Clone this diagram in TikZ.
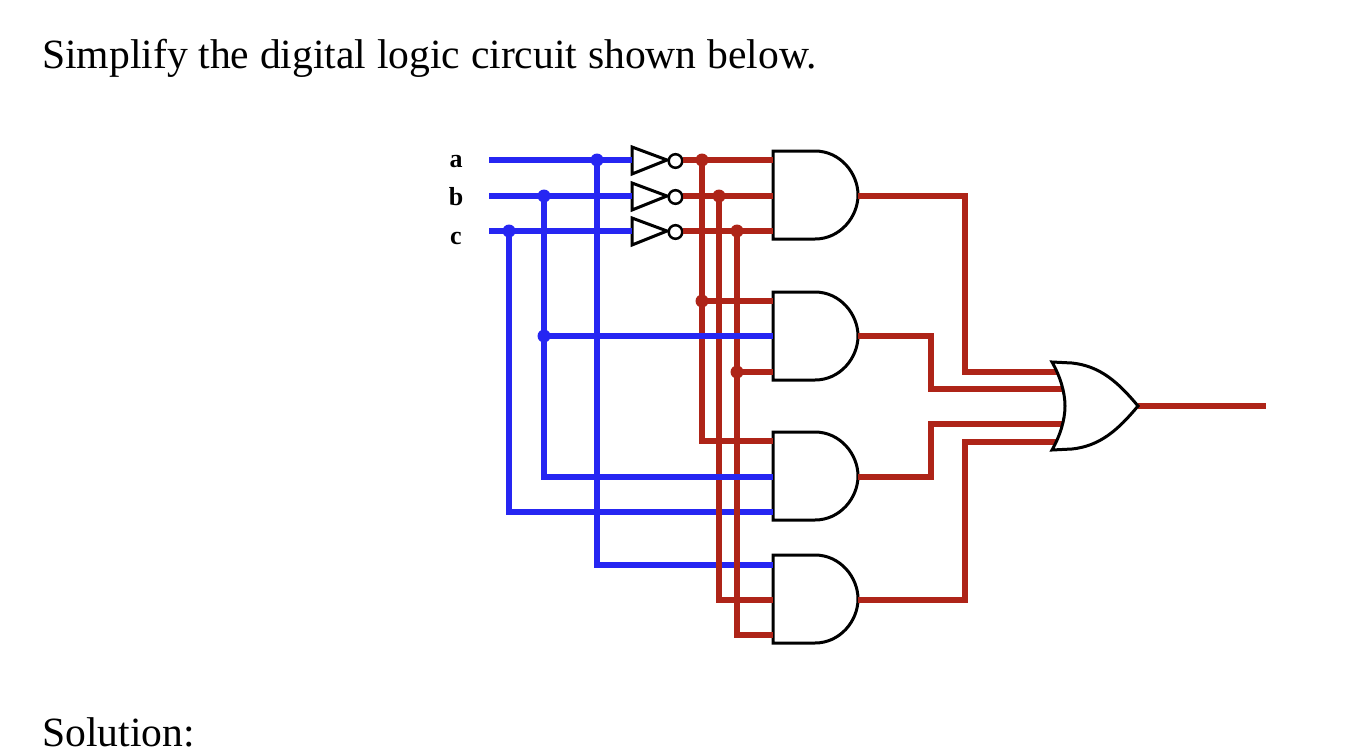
\documentclass[tikz,border=0pt]{standalone}
\usepackage{fontspec}
\setmainfont[WordSpace=1.03]{Liberation Serif}
\definecolor{wireblue}{HTML}{2626F2}
\definecolor{wirered}{HTML}{AE2418}
\tikzset{
    blue wire/.style={draw=wireblue, line width=5.5pt, line join=miter},
    red wire/.style={draw=wirered, line width=5.5pt, line join=miter},
    gate/.style={draw=black, line width=3pt, fill=white, line join=miter},
    bubble/.style={draw=black, line width=2.5pt, fill=white},
    blue dot/.style={circle, fill=wireblue, minimum size=13pt, inner sep=0pt},
    red dot/.style={circle, fill=wirered, minimum size=13pt, inner sep=0pt},
    title/.style={anchor=base west, font=\fontsize{41.6}{41.6}\selectfont, inner sep=0pt},
    input/.style={anchor=base, font=\fontsize{26}{26}\selectfont\bfseries, inner sep=0pt}
}
% #1 name, #2 top, #3 first pin, #4 middle pin, #5 last pin
\newcommand{\AndGate}[5]{
    \draw [gate] (773,#2) -- (815,#2) .. controls (840,#2) and (858,#2+22) .. (858,#2+44)
        .. controls (858,#2+66) and (840,#2+88) .. (815,#2+88) -- (773,#2+88) -- cycle;
    \coordinate (#1a) at (773,#3);
    \coordinate (#1b) at (773,#4);
    \coordinate (#1c) at (773,#5);
    \coordinate (#1out) at (858,#4);
}
% #1 name, #2 middle
\newcommand{\NotGate}[2]{
    \draw [gate] (632,#2-13) -- (667,#2) -- (632,#2+14) -- cycle;
    \draw [bubble] (675.5,#2+1) circle (6.8);
    \coordinate (#1in) at (632,#2);
    \coordinate (#1out) at (683,#2);
}

\begin{document}
\begin{tikzpicture}[x=1pt, y=-1pt]
    \useasboundingbox (0,0) rectangle (1355,753);
    \node [title] (question) at (42,68) {Simplify the digital logic circuit shown below.};
    \node [title] (solution) at (42,746) {Solution:};
    \node [input] (a) at (456,167) {a};
    \node [input] (b) at (456,205) {b};
    \node [input] (c) at (456,244) {c};

    \coordinate (astart) at (489,160);
    \coordinate (bstart) at (489,196);
    \coordinate (cstart) at (489,231);

    \AndGate{first}{151}{160}{196}{231}
    \AndGate{second}{292}{301}{336}{372}
    \AndGate{third}{432}{441}{477}{512}
    \AndGate{fourth}{555}{565}{600}{635}
    \NotGate{nota}{160}
    \NotGate{notb}{196}
    \NotGate{notc}{231}

    % inputs
    \node [blue dot] (ja) at (597,160) {};
    \node [blue dot] (jb) at (544,196) {};
    \node [blue dot] (jc) at (509,231) {};
    \node [blue dot] (jb2) at (544,336) {};
    \draw [blue wire] (astart) -- (notain);
    \draw [blue wire] (bstart) -- (notbin);
    \draw [blue wire] (cstart) -- (notcin);
    \draw [blue wire] (ja.center) |- (fourtha);
    \draw [blue wire] (jc.center) |- (thirdc);

    % inverted inputs
    \node [red dot] (ra) at (702,160) {};
    \node [red dot] (rb) at (719,196) {};
    \node [red dot] (rc) at (737,231) {};
    \node [red dot] (ra2) at (702,301) {};
    \node [red dot] (rc2) at (737,372) {};
    \draw [red wire] (notaout) -- (firsta);
    \draw [red wire] (notbout) -- (firstb);
    \draw [red wire] (notcout) -- (firstc);
    \draw [red wire] (ra.center) |- (thirda);
    \draw [red wire] (rb.center) |- (fourthb);
    \draw [red wire] (rc.center) |- (fourthc);
    \draw [red wire] (ra2.center) -- (seconda);
    \draw [red wire] (rc2.center) -- (secondc);

    % these two cross over the red wires
    \draw [blue wire] (jb.center) |- (thirdb);
    \draw [blue wire] (jb2.center) -- (secondb);

    % outputs
    \coordinate (ora) at (1058,372);
    \coordinate (orb) at (1064,389);
    \coordinate (orc) at (1064,424);
    \coordinate (ord) at (1058,442);
    \coordinate (ortip) at (1138,406);
    \coordinate (result) at (1266,406);
    \draw [red wire] (firstout) -- (965,196) |- (ora);
    \draw [red wire] (secondout) -- (931,336) |- (orb);
    \draw [red wire] (thirdout) -- (931,477) |- (orc);
    \draw [red wire] (fourthout) -- (965,600) |- (ord);
    \draw [red wire] (ortip) -- (result);
    \draw [gate] (1052,362) -- (1072,363) .. controls (1100,366) and (1118,382) .. (ortip)
        .. controls (1118,430) and (1100,446) .. (1072,449) -- (1052,450)
        .. controls (1060,436) and (1065,420) .. (1065,406)
        .. controls (1065,392) and (1060,376) .. (1052,362) -- cycle;
\end{tikzpicture}
\end{document}
